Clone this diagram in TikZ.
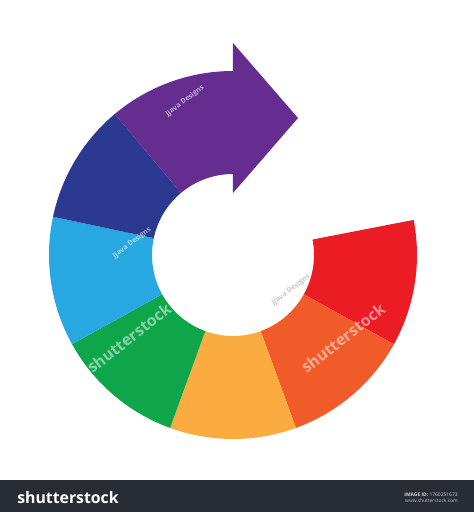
\documentclass[tikz,border=0pt]{standalone}
\usepackage{fontspec}
\setsansfont{Open Sans}
\definecolor{ringred}{HTML}{EC1C24}
\definecolor{ringorange}{HTML}{F15A29}
\definecolor{ringyellow}{HTML}{FAAC41}
\definecolor{ringgreen}{HTML}{0FA64B}
\definecolor{ringcyan}{HTML}{27A8E0}
\definecolor{ringblue}{HTML}{2B3990}
\definecolor{ringpurple}{HTML}{662D91}
\definecolor{barbg}{HTML}{282D34}
\begin{document}
\begin{tikzpicture}[x=0.02cm,y=0.02cm,
    mark text/.style={text=white,opacity=0.5,font=\sffamily\bfseries\fontsize{9}{9}\selectfont,rotate=38,inner sep=0pt},
    credit text/.style={text=white,opacity=0.6,font=\sffamily\bfseries\fontsize{4}{4}\selectfont,rotate=38,inner sep=0pt},
    bar text/.style={text=white,inner sep=0pt}]
    \useasboundingbox (-233,-257) rectangle (241,255);

    % ring segments, clockwise from red
    \foreach \a/\b/\c in {11/-29/ringred,-29/-70/ringorange,-70/-110/ringyellow,-110/-151/ringgreen,-151/-192/ringcyan,168/130/ringblue}
        \fill[\c] (\a:81) -- (\a:184) arc[start angle=\a,end angle=\b,radius=184] -- (\b:81) arc[start angle=\b,end angle=\a,radius=81] -- cycle;

    % purple part with the arrow head
    \fill[ringpurple] (130:81) -- (130:184) arc[start angle=130,end angle=90,radius=184]
        -- (0,212) -- (65,137) -- (0,62) -- (90:81) arc[start angle=90,end angle=130,radius=81] -- cycle;

    % watermarks
    \node[mark text] (wm green) at (-104,-83) {shutterstock};
    \node[mark text] (wm orange) at (110,-83) {shutterstock};
    \node[credit text] (jj purple) at (-48,154) {JJava Designs};
    \node[credit text] (jj cyan) at (-101,12) {JJava Designs};
    \node[credit text,text=gray!45,opacity=1] (jj white) at (58,-35) {JJava Designs};

    % bottom bar
    \fill[barbg] (-233,-225) rectangle (241,-257);
    \node[bar text,anchor=base west,font=\sffamily\bfseries\fontsize{9}{9}\selectfont] (logo) at (-216,-248) {shutterstock};
    \node[bar text,anchor=base east,text=white!80!barbg,font=\sffamily\fontsize{2.8}{3}\selectfont] (img id) at (225,-241) {\textbf{IMAGE ID:} 1760251673};
    \node[bar text,anchor=base east,text=white!70!barbg,font=\sffamily\fontsize{2.8}{3}\selectfont] (site) at (225,-247) {www.shutterstock.com};
\end{tikzpicture}
\end{document}
